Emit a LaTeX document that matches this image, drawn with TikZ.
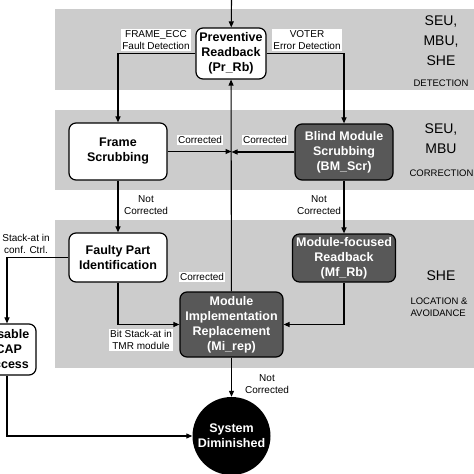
\documentclass[tikz,border=0pt]{standalone}
\usepackage{fontspec}
\setmainfont{Liberation Sans}
\usetikzlibrary{arrows.meta,positioning,calc}
\definecolor{bandgray}{RGB}{204,204,204}
\definecolor{nodegray}{RGB}{88,88,88}
\tikzset{
    stagebox/.style={draw, line width=1.2pt, rounded corners=7pt, align=center, fill=white,
        font=\fontsize{12.5}{15}\selectfont\bfseries, inner sep=0pt},
    darkbox/.style={stagebox, fill=nodegray, text=white},
    endcircle/.style={circle, fill=black, text=white, align=center, minimum size=78pt,
        inner sep=0pt, font=\fontsize{12.5}{15}\selectfont\bfseries},
    flowlabel/.style={align=center, font=\fontsize{10}{12}\selectfont, inner sep=1.5pt},
    boxlabel/.style={flowlabel, fill=white},
    bandfaults/.style={align=center, font=\fontsize{14}{20}\selectfont},
    bandphase/.style={font=\fontsize{9.5}{12}\selectfont},
    flowarrow/.style={-{Stealth[length=6pt,width=5pt,inset=0pt]}, line width=1.1pt}
}

\begin{document}
\begin{tikzpicture}[x=1pt, y=-1pt]
\useasboundingbox (0,0) rectangle (474,474);
% bands
\fill[bandgray] (55,9) rectangle (474,90);
\fill[bandgray] (55,110) rectangle (474,190);
\fill[bandgray] (55,220) rectangle (474,368);

\node[stagebox, minimum width=70pt, minimum height=51pt] (prrb) at (231,53.5) {Preventive\\Readback\\(Pr\_Rb)};
\node[stagebox, minimum width=98pt, minimum height=57pt] (frame) at (118,151.5) {Frame\\Scrubbing};
\node[darkbox, minimum width=98pt, minimum height=56pt] (bmscr) at (344,152) {Blind Module\\Scrubbing\\(BM\_Scr)};
\node[stagebox, minimum width=98pt, minimum height=49pt] (faulty) at (118,257.5) {Faulty Part\\Identification};
\node[darkbox, minimum width=103pt, minimum height=48pt] (mfrb) at (344,258) {Module-focused\\Readback\\(Mf\_Rb)};
\node[darkbox, minimum width=103pt, minimum height=65pt] (mirep) at (231.5,324.5) {Module\\Implementation\\Replacement\\(Mi\_rep)};
\node[stagebox, minimum width=58pt, minimum height=51pt] (icap) at (7,349.5) {Disable\\ICAP\\Access};
\node[endcircle] (sysdim) at (231.5,436) {System\\Diminished};

\coordinate (start) at (231.5,0);
\coordinate (merge) at (231.5,152);

% connectors
\draw[flowarrow] (start) -- (prrb);
\draw[flowarrow] (prrb) -| (frame);
\draw[flowarrow] (prrb) -| (bmscr);
\draw[flowarrow] (mirep) -- (prrb);
\draw[flowarrow] (frame) -- (frame -| merge);
\draw[flowarrow] (bmscr) -- (bmscr -| merge);
\draw[flowarrow] (frame) -- (faulty);
\draw[flowarrow] (bmscr) -- (mfrb);
\draw[flowarrow] (faulty) -| (icap);
\draw[flowarrow] (faulty) |- (mirep);
\draw[flowarrow] (mfrb) |- (mirep);
\draw[flowarrow] (mirep) -- (sysdim);
\draw[flowarrow] (icap) |- (sysdim);

% labels
\node[boxlabel] (eccnote) at (156,40) {FRAME\_ECC\\Fault Detection};
\node[boxlabel] (voternote) at (307,40) {VOTER\\Error Detection};
\node[boxlabel] (corrframe) at (200,140) {Corrected};
\node[boxlabel] (corrbm) at (265,140) {Corrected};
\node[flowlabel] (notframe) at (146,205) {Not\\Corrected};
\node[flowlabel] (notbm) at (319,205) {Not\\Corrected};
\node[flowlabel] (stuckctrl) at (26,244) {Stack-at in\\conf. Ctrl.};
\node[boxlabel] (corrmi) at (202,277) {Corrected};
\node[boxlabel] (stucktmr) at (141,340) {Bit Stack-at in\\TMR module};
\node[flowlabel] (notmi) at (267,384) {Not\\Corrected};

% band captions
\node[bandfaults] (detfaults) at (441,41) {SEU,\\MBU,\\SHE};
\node[bandphase] (detphase) at (441,83) {DETECTION};
\node[bandfaults] (corfaults) at (441,139) {SEU,\\MBU};
\node[bandphase, anchor=west] (corphase) at (406,173) {CORRECTION};
\node[bandfaults] (shefaults) at (441,276) {SHE};
\node[bandphase, anchor=west, align=left] (shephase) at (407,307) {LOCATION \&\\AVOIDANCE};
\end{tikzpicture}
\end{document}
